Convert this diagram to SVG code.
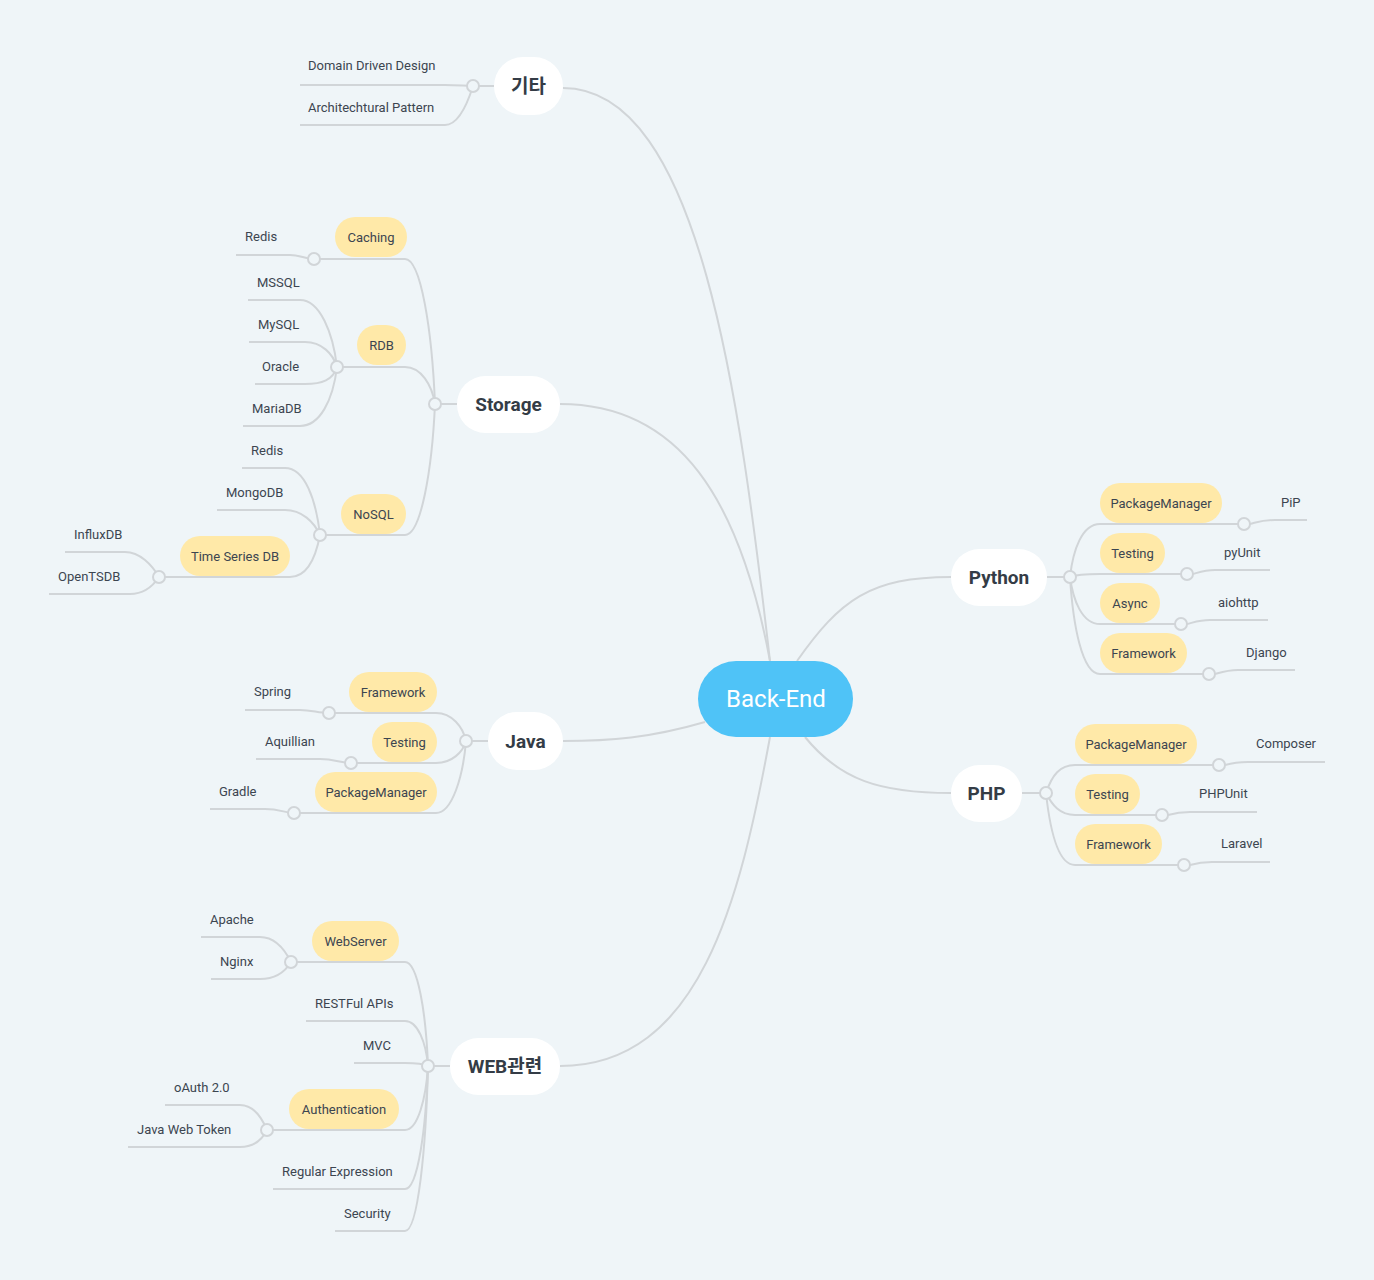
<svg xmlns="http://www.w3.org/2000/svg" width="1374" height="1280" viewBox="0 0 1374 1280">
<style>
text{font-family:Roboto,"Noto Sans CJK KR",sans-serif;fill:#3c4550}
.leaf{font-size:13px;dominant-baseline:central}
.sub{font-size:13px;dominant-baseline:central;text-anchor:middle}
.main{font-size:19px;font-weight:bold;dominant-baseline:central;text-anchor:middle;fill:#343c46}
.ln{fill:none;stroke:#d1d5d8;stroke-width:2}
.hub{fill:#eff5f8;stroke:#d1d5d8;stroke-width:2}
.yp{fill:#ffe9a8}
.wp{fill:#ffffff}
</style>
<rect width="1374" height="1280" fill="#eff5f8"/>
<g id="connectors" class="ln">
<path d="M770,661 C740,400 700,88 563,88"/>
<path d="M770,661 C740,500 680,404 560,404"/>
<path d="M705,722 C650,738 610,741 563,741"/>
<path d="M770,737 C740,900 700,1066 560,1066"/>
<path d="M797,661 C840,600 870,577 951,577"/>
<path d="M805,737 C840,780 880,793 951,793"/>
<path d="M479,86 L494,86"/>
<path d="M300,85 L445,85 C458,85 465,86 473,86"/>
<path d="M300,125 L445,125 C458,125 467,105 473,86"/>
<path d="M441,404 L457,404"/>
<path d="M435,404 C432,331 421,259 405,259 L320,259"/>
<path d="M435,404 C432,385 421,367 405,367 L343,367"/>
<path d="M435,404 C432,470 421,535 405,535 L326,535"/>
<path d="M236,255 L290,255 C300,255 305,259 314,259"/>
<path d="M248,300 L300,300 C320,300 333,333 337,367"/>
<path d="M249,342 L305,342 C322,342 333,354 337,367"/>
<path d="M255,384 L305,384 C322,384 333,380 337,367"/>
<path d="M243,426 L300,426 C320,426 333,400 337,367"/>
<path d="M242,468 L285,468 C305,468 316,500 320,535"/>
<path d="M217,510 L285,510 C302,510 314,522 320,535"/>
<path d="M165,577 L290,577 C308,577 316,556 320,535"/>
<path d="M65,552 L125,552 C140,552 152,565 159,577"/>
<path d="M49,594 L130,594 C145,594 153,586 159,577"/>
<path d="M472,741 L488,741"/>
<path d="M466,741 C463,727 452,713 436,713 L335,713"/>
<path d="M466,741 C463,752 452,763 436,763 L357,763"/>
<path d="M466,741 C463,777 452,813 436,813 L300,813"/>
<path d="M245,710 L300,710 C312,710 318,713 329,713"/>
<path d="M256,759 L320,759 C335,759 340,763 351,763"/>
<path d="M210,809 L265,809 C280,809 285,813 294,813"/>
<path d="M434,1066 L450,1066"/>
<path d="M428,1066 C426,1014 418,962 405,962 L297,962"/>
<path d="M428,1066 C426,1043 418,1021 405,1021 L306,1021"/>
<path d="M428,1066 C424,1064 418,1063 405,1063 L354,1063"/>
<path d="M428,1066 C426,1098 418,1130 405,1130 L273,1130"/>
<path d="M428,1066 C426,1128 418,1189 405,1189 L273,1189"/>
<path d="M428,1066 C426,1148 418,1231 405,1231 L335,1231"/>
<path d="M201,937 L260,937 C275,937 285,950 291,962"/>
<path d="M211,979 L260,979 C275,979 285,972 291,962"/>
<path d="M165,1105 L240,1105 C253,1105 262,1118 267,1130"/>
<path d="M128,1147 L240,1147 C253,1147 262,1140 267,1130"/>
<path d="M1047,577 L1064,577"/>
<path d="M1070,577 C1073,550 1082,524 1100,524 L1238,524"/>
<path d="M1250,524 C1258,522 1262,520 1275,520 L1307,520"/>
<path d="M1070,577 C1075,575 1082,574 1100,574 L1181,574"/>
<path d="M1193,574 C1200,572 1205,570 1215,570 L1270,570"/>
<path d="M1070,577 C1073,600 1082,624 1100,624 L1175,624"/>
<path d="M1187,624 C1195,622 1200,620 1210,620 L1268,620"/>
<path d="M1070,577 C1073,625 1082,674 1100,674 L1203,674"/>
<path d="M1215,674 C1222,672 1228,670 1238,670 L1295,670"/>
<path d="M1022,793 L1040,793"/>
<path d="M1046,793 C1052,775 1060,765 1075,765 L1213,765"/>
<path d="M1225,765 C1232,763 1238,762 1248,762 L1325,762"/>
<path d="M1046,793 C1052,805 1060,815 1075,815 L1156,815"/>
<path d="M1168,815 C1175,813 1180,812 1190,812 L1257,812"/>
<path d="M1046,793 C1050,830 1058,865 1075,865 L1178,865"/>
<path d="M1190,865 C1197,863 1202,862 1212,862 L1270,862"/>
</g>
<g id="hubs" class="hub">
<circle cx="473" cy="86" r="6"/>
<circle cx="435" cy="404" r="6"/>
<circle cx="314" cy="259" r="6"/>
<circle cx="337" cy="367" r="6"/>
<circle cx="320" cy="535" r="6"/>
<circle cx="159" cy="577" r="6"/>
<circle cx="466" cy="741" r="6"/>
<circle cx="329" cy="713" r="6"/>
<circle cx="351" cy="763" r="6"/>
<circle cx="294" cy="813" r="6"/>
<circle cx="428" cy="1066" r="6"/>
<circle cx="291" cy="962" r="6"/>
<circle cx="267" cy="1130" r="6"/>
<circle cx="1070" cy="577" r="6"/>
<circle cx="1244" cy="524" r="6"/>
<circle cx="1187" cy="574" r="6"/>
<circle cx="1181" cy="624" r="6"/>
<circle cx="1209" cy="674" r="6"/>
<circle cx="1046" cy="793" r="6"/>
<circle cx="1219" cy="765" r="6"/>
<circle cx="1162" cy="815" r="6"/>
<circle cx="1184" cy="865" r="6"/>
</g>
<g id="center"><rect x="698" y="661" width="155" height="76" rx="38" fill="#4fc3f7"/><text x="776" y="699" style="font-size:24px;fill:#ffffff;dominant-baseline:central;text-anchor:middle">Back-End</text></g>
<g id="n-gita"><rect class="wp" x="494" y="57" width="69" height="58" rx="29"/><text class="main" x="528.5" y="86">기타</text></g>
<g id="n-storage"><rect class="wp" x="457" y="376" width="103" height="57" rx="28.5"/><text class="main" x="508.5" y="404">Storage</text></g>
<g id="n-java"><rect class="wp" x="488" y="712" width="75" height="58" rx="29"/><text class="main" x="525.5" y="741">Java</text></g>
<g id="n-web"><rect class="wp" x="450" y="1038" width="110" height="57" rx="28.5"/><text class="main" x="505" y="1066">WEB관련</text></g>
<g id="n-python"><rect class="wp" x="951" y="549" width="96" height="57" rx="28.5"/><text class="main" x="999" y="577">Python</text></g>
<g id="n-php"><rect class="wp" x="951" y="765" width="71" height="57" rx="28.5"/><text class="main" x="986.5" y="793">PHP</text></g>
<g id="n-caching"><rect class="yp" x="335" y="217" width="72" height="40" rx="20"/><text class="sub" x="371" y="237">Caching</text></g>
<g id="n-rdb"><rect class="yp" x="357" y="325" width="49" height="40" rx="20"/><text class="sub" x="381.5" y="345">RDB</text></g>
<g id="n-nosql"><rect class="yp" x="341" y="494" width="65" height="40" rx="20"/><text class="sub" x="373.5" y="514">NoSQL</text></g>
<g id="n-tsdb"><rect class="yp" x="180" y="536" width="110" height="40" rx="20"/><text class="sub" x="235" y="556">Time Series DB</text></g>
<g id="n-jframework"><rect class="yp" x="349" y="672" width="88" height="40" rx="20"/><text class="sub" x="393" y="692">Framework</text></g>
<g id="n-jtesting"><rect class="yp" x="372" y="722" width="65" height="40" rx="20"/><text class="sub" x="404.5" y="742">Testing</text></g>
<g id="n-jpm"><rect class="yp" x="315" y="772" width="122" height="40" rx="20"/><text class="sub" x="376" y="792">PackageManager</text></g>
<g id="n-webserver"><rect class="yp" x="312" y="921" width="87" height="40" rx="20"/><text class="sub" x="355.5" y="941">WebServer</text></g>
<g id="n-auth"><rect class="yp" x="289" y="1089" width="110" height="40" rx="20"/><text class="sub" x="344" y="1109">Authentication</text></g>
<g id="n-ppm"><rect class="yp" x="1100" y="483" width="122" height="40" rx="20"/><text class="sub" x="1161" y="503">PackageManager</text></g>
<g id="n-ptesting"><rect class="yp" x="1100" y="533" width="65" height="40" rx="20"/><text class="sub" x="1132.5" y="553">Testing</text></g>
<g id="n-async"><rect class="yp" x="1100" y="583" width="60" height="40" rx="20"/><text class="sub" x="1130" y="603">Async</text></g>
<g id="n-pframework"><rect class="yp" x="1100" y="633" width="87" height="40" rx="20"/><text class="sub" x="1143.5" y="653">Framework</text></g>
<g id="n-phppm"><rect class="yp" x="1075" y="724" width="122" height="40" rx="20"/><text class="sub" x="1136" y="744">PackageManager</text></g>
<g id="n-phptesting"><rect class="yp" x="1075" y="774" width="65" height="40" rx="20"/><text class="sub" x="1107.5" y="794">Testing</text></g>
<g id="n-phpframework"><rect class="yp" x="1075" y="824" width="87" height="40" rx="20"/><text class="sub" x="1118.5" y="844">Framework</text></g>
<g id="leaves">
<text class="leaf" x="308" y="65">Domain Driven Design</text>
<text class="leaf" x="308" y="107">Architechtural Pattern</text>
<text class="leaf" x="245" y="236">Redis</text>
<text class="leaf" x="257" y="282">MSSQL</text>
<text class="leaf" x="258" y="324">MySQL</text>
<text class="leaf" x="262" y="366">Oracle</text>
<text class="leaf" x="252" y="408">MariaDB</text>
<text class="leaf" x="251" y="450">Redis</text>
<text class="leaf" x="226" y="492">MongoDB</text>
<text class="leaf" x="74" y="534">InfluxDB</text>
<text class="leaf" x="58" y="576">OpenTSDB</text>
<text class="leaf" x="254" y="691">Spring</text>
<text class="leaf" x="265" y="741">Aquillian</text>
<text class="leaf" x="219" y="791">Gradle</text>
<text class="leaf" x="210" y="919">Apache</text>
<text class="leaf" x="220" y="961">Nginx</text>
<text class="leaf" x="315" y="1003">RESTFul APIs</text>
<text class="leaf" x="363" y="1045">MVC</text>
<text class="leaf" x="174" y="1087">oAuth 2.0</text>
<text class="leaf" x="137" y="1129">Java Web Token</text>
<text class="leaf" x="282" y="1171">Regular Expression</text>
<text class="leaf" x="344" y="1213">Security</text>
<text class="leaf" x="1281" y="502">PiP</text>
<text class="leaf" x="1224" y="552">pyUnit</text>
<text class="leaf" x="1218" y="602">aiohttp</text>
<text class="leaf" x="1246" y="652">Django</text>
<text class="leaf" x="1256" y="743">Composer</text>
<text class="leaf" x="1199" y="793">PHPUnit</text>
<text class="leaf" x="1221" y="843">Laravel</text>
</g>
</svg>
